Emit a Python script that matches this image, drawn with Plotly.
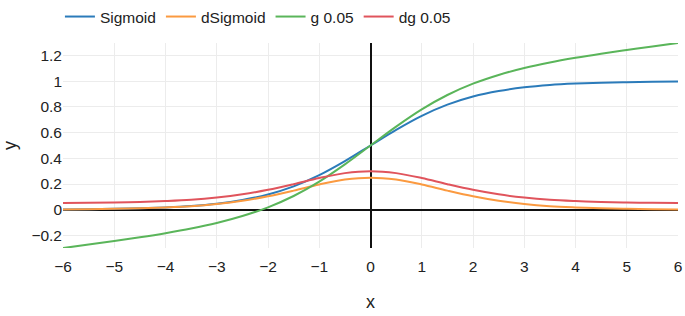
import plotly.graph_objects as go

x_vals = [-6, -5.5, -5, -4.5, -4, -3.5, -3, -2.5, -2, -1.5, -1, -0.5, 0,
          0.5, 1, 1.5, 2, 2.5, 3, 3.5, 4, 4.5, 5, 5.5, 6]

sigmoid = [0.002, 0.004, 0.007, 0.011, 0.018, 0.029, 0.047, 0.076, 0.119, 0.182, 0.269, 0.378, 0.5,
           0.622, 0.731, 0.818, 0.881, 0.924, 0.953, 0.971, 0.982, 0.989, 0.993, 0.996, 0.998]

dsigmoid = [0.002, 0.004, 0.007, 0.011, 0.018, 0.028, 0.045, 0.070, 0.105, 0.149, 0.197, 0.235, 0.25,
            0.235, 0.197, 0.149, 0.105, 0.070, 0.045, 0.028, 0.018, 0.011, 0.007, 0.004, 0.002]

g_005 = [-0.298, -0.271, -0.243, -0.214, -0.182, -0.146, -0.103, -0.049, 0.019, 0.107, 0.219, 0.353, 0.5,
         0.647, 0.781, 0.893, 0.981, 1.049, 1.103, 1.146, 1.182, 1.214, 1.243, 1.271, 1.298]

dg_005 = [0.052, 0.054, 0.057, 0.061, 0.068, 0.078, 0.095, 0.120, 0.155, 0.199, 0.247, 0.285, 0.30,
          0.285, 0.247, 0.199, 0.155, 0.120, 0.095, 0.078, 0.068, 0.061, 0.057, 0.054, 0.052]

names = ["Sigmoid", "dSigmoid", "g 0.05", "dg 0.05"]
colors = ["#2b7bba", "#fb9a40", "#5ab55a", "#e0545c"]
series = [sigmoid, dsigmoid, g_005, dg_005]

fig = go.Figure()
for name, col, ys in zip(names, colors, series):
    fig.add_trace(go.Scatter(x=x_vals, y=ys, name=name, mode="lines",
                             line=dict(color=col, width=2, shape="spline")))

fig.update_layout(
    width=685, height=316,
    margin=dict(l=63, r=7, t=43, b=68, autoexpand=False),
    paper_bgcolor="white", plot_bgcolor="white",
    font=dict(family="Liberation Sans, Arial, sans-serif", size=15.5, color="#222"),
    legend=dict(orientation="h", x=-0.005, y=1.127, xanchor="left", yanchor="middle",
                font=dict(size=15.5), tracegroupgap=0),
    xaxis=dict(title=dict(text="x", font=dict(size=18), standoff=21),
               range=[-6, 6], dtick=1, showgrid=True, gridcolor="#ececec",
               zeroline=True, zerolinecolor="#111", zerolinewidth=2,
               tickfont=dict(size=15.5), ticks="", showline=False, ticklabelstandoff=7,
               automargin=True, ticklabeloverflow="allow"),
    yaxis=dict(title=dict(text="y", font=dict(size=18)),
               range=[-0.2975, 1.2975], dtick=0.2, showgrid=True, gridcolor="#ececec",
               zeroline=True, zerolinecolor="#111", zerolinewidth=2,
               tickfont=dict(size=15.5), ticks="", showline=False, tickformat="~g",
               automargin=False, ticklabeloverflow="allow"),
)

fig.write_html("out.html", config={"displayModeBar": False},
               post_script="document.body.style.margin='0';document.body.style.overflow='hidden';")
